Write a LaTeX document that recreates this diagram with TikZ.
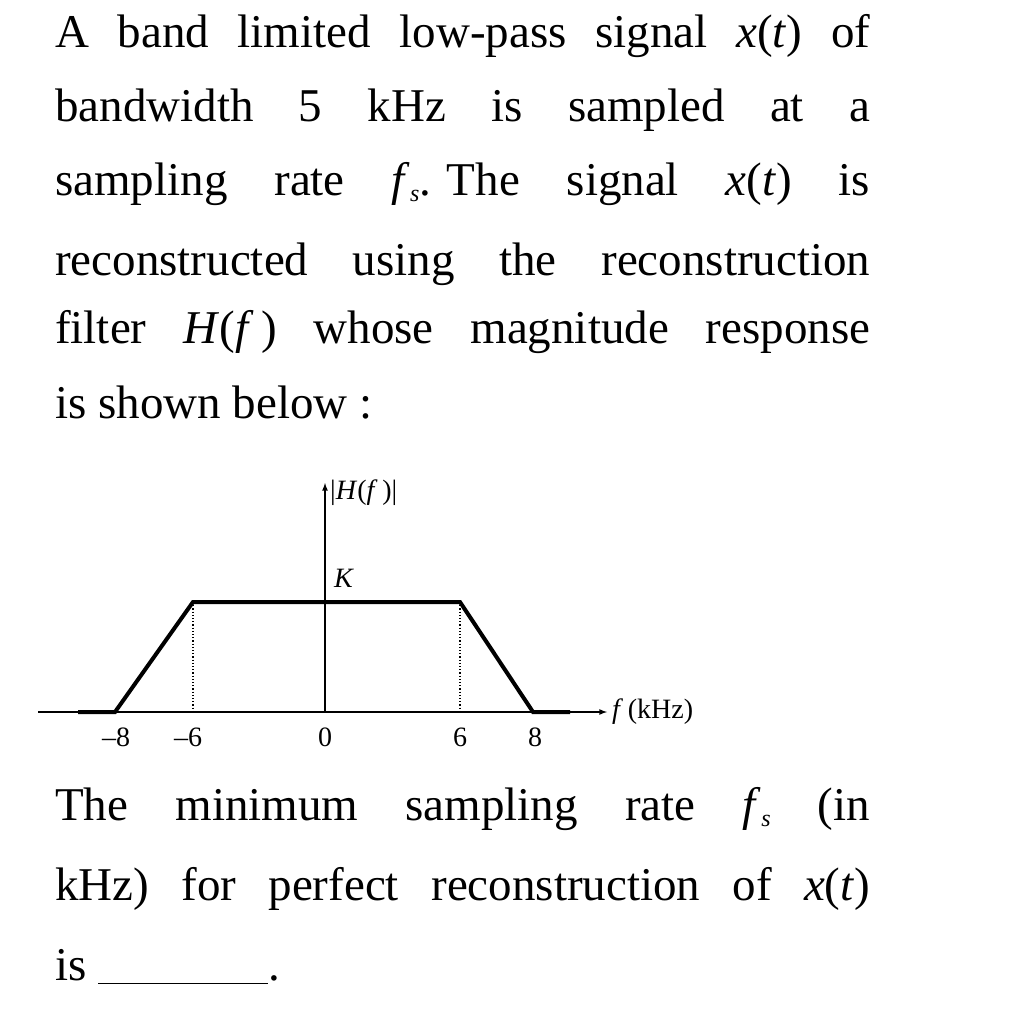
\documentclass[tikz,border=0pt]{standalone}
\usepackage{fontspec}
\setmainfont{Liberation Serif}
\newcommand\mi[1]{\textit{#1}}
\begin{document}
\begin{tikzpicture}[x=1pt,y=-1pt,
  txt/.style={anchor=base west,inner sep=0pt,font=\fontsize{47}{52}\selectfont},
  lab/.style={inner sep=0pt,font=\fontsize{28}{30}\selectfont},
  thick line/.style={line width=4pt},
  axis/.style={line width=1.6pt,-latex}]
\useasboundingbox (0,0) rectangle (1019,1024);
\fill[white] (0,0) rectangle (1019,1024);
\node[txt] (l1) at (55,48) {\hbox to 815pt{A\hfill band\hfill limited\hfill low-pass\hfill signal\hfill \mi{x}(\mi{t})\hfill of}};
\node[txt] (l2) at (55,122) {\hbox to 815pt{bandwidth\hfill 5\hfill kHz\hfill is\hfill sampled\hfill at\hfill a}};
\node[txt] (l3) at (55,196) {\hbox to 815pt{sampling\hfill rate\hfill \mi{f}\raisebox{-6pt}{\fontsize{24}{26}\selectfont\mi{s}}. The\hfill signal\hfill \mi{x}(\mi{t})\hfill is}};
\node[txt] (l4) at (55,275) {\hbox to 815pt{reconstructed\hfill using\hfill the\hfill reconstruction}};
\node[txt] (l5) at (55,343) {\hbox to 815pt{filter\hfill \mi{H}(\mi{f}\,)\hfill whose\hfill magnitude\hfill response}};
\node[txt] (l6) at (55,418) {is shown below :};
\node[txt] (l7) at (55,820) {\hbox to 815pt{The\hfill minimum\hfill sampling\hfill rate\hfill \mi{f}\raisebox{-6pt}{\fontsize{24}{26}\selectfont\mi{s}}\hfill (in}};
\node[txt] (l8) at (55,900) {\hbox to 815pt{kHz)\hfill for\hfill perfect\hfill reconstruction\hfill of\hfill \mi{x}(\mi{t})}};
\node[txt] (l9) at (55,980) {is \rule[-4pt]{170pt}{1.5pt}.};
% graph
\coordinate (o) at (325,712);
\coordinate (xl) at (38,712);
\coordinate (xr) at (607,712);
\coordinate (yt) at (325,483);
\draw[axis] (xl) -- (xr);
\draw[axis] (o) -- (yt);
\coordinate (a) at (78,712);
\coordinate (b) at (115,712);
\coordinate (c) at (193,602);
\coordinate (d) at (460,602);
\coordinate (e) at (533,712);
\coordinate (f) at (570,712);
\draw[thick line,line join=miter] (a) -- (b) -- (c) -- (d) -- (e) -- (f);
\draw[dotted,line width=1.2pt] (c) -- (193,712);
\draw[dotted,line width=1.2pt] (d) -- (460,712);
\node[lab] (t1) at (116,737) {\textendash8};
\node[lab] (t2) at (188,737) {\textendash6};
\node[lab] (t3) at (325,737) {0};
\node[lab] (t4) at (460,737) {6};
\node[lab] (t5) at (535,737) {8};
\node[lab,anchor=west] (hf) at (330,493) {|\mi{H}(\mi{f}\,)|};
\node[lab,anchor=west] (k) at (334,578) {\mi{K}};
\node[lab,anchor=west] (fk) at (612,712) {\mi{f}\,(kHz)};
\end{tikzpicture}
\end{document}
